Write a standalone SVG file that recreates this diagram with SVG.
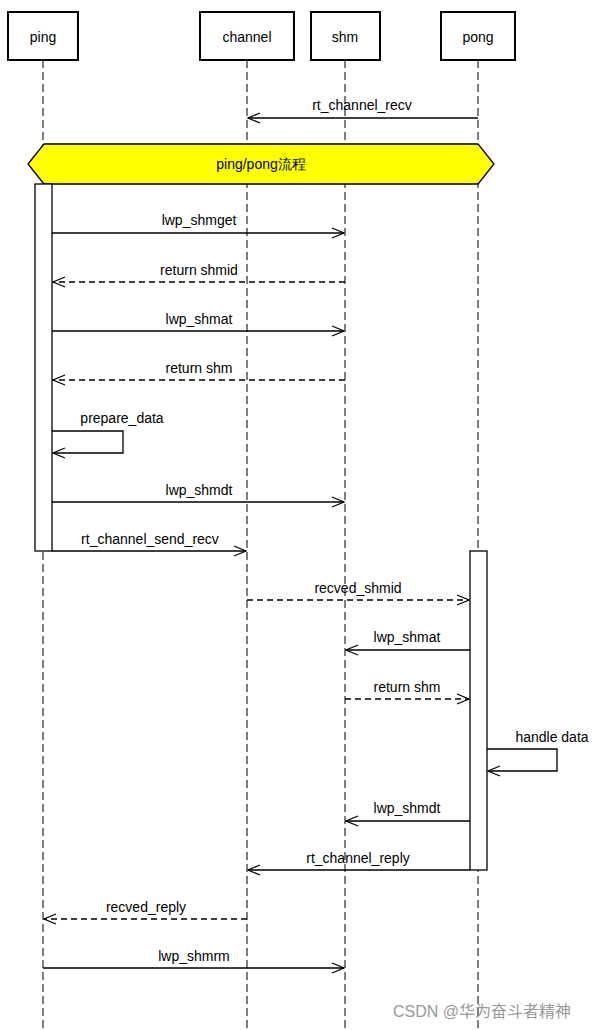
<svg xmlns="http://www.w3.org/2000/svg" width="602" height="1030" viewBox="0 0 602 1030">
<style>
text{font-family:"Liberation Sans",Arial,sans-serif;font-size:14px;fill:#000;text-anchor:middle}
.box{fill:#fff;stroke:#000;stroke-width:2}
.life{stroke:#000;stroke-width:1;stroke-dasharray:8,4;fill:none}
.m{stroke:#000;stroke-width:1.3;fill:none;marker-end:url(#a)}
.d{stroke:#000;stroke-width:1.3;fill:none;stroke-dasharray:6,4;marker-end:url(#a)}
.act{fill:#fff;stroke:#000;stroke-width:1.3}
</style>
<defs><marker id="a" markerWidth="14" markerHeight="12" refX="13" refY="6" orient="auto" markerUnits="userSpaceOnUse"><path d="M1,1 L13,6 L1,11" fill="none" stroke="#000" stroke-width="1.3"/></marker></defs>
<rect width="602" height="1030" fill="#fff"/>
<g id="lifelines">
<line class="life" x1="43" y1="60" x2="43" y2="1030"/>
<line class="life" x1="247" y1="60" x2="247" y2="1030"/>
<line class="life" x1="345" y1="60" x2="345" y2="1030"/>
<line class="life" x1="478" y1="60" x2="478" y2="1030"/>
</g>
<g id="ping"><rect class="box" x="8" y="12" width="70" height="48"/><text x="43" y="42">ping</text></g>
<g id="channel"><rect class="box" x="200" y="12" width="94" height="48"/><text x="247" y="42">channel</text></g>
<g id="shm"><rect class="box" x="311" y="12" width="69" height="48"/><text x="345" y="42">shm</text></g>
<g id="pong"><rect class="box" x="441" y="12" width="74" height="48"/><text x="478" y="42">pong</text></g>
<g id="frame"><polygon points="28,164 44,144 478,144 494,164 478,184 44,184" fill="#ffff00" stroke="#000" stroke-width="1.3"/><text x="261" y="169">ping/pong流程</text></g>
<g id="act-ping"><rect class="act" x="35" y="184" width="17" height="367"/></g>
<g id="act-pong"><rect class="act" x="470" y="551" width="17" height="319"/></g>
<g id="connectors">
<line class="m" x1="478" y1="118" x2="248" y2="118"/><text x="362" y="110">rt_channel_recv</text>
<line class="m" x1="52" y1="233" x2="344" y2="233"/><text x="199" y="225">lwp_shmget</text>
<line class="d" x1="345" y1="282" x2="53" y2="282"/><text x="199" y="275">return shmid</text>
<line class="m" x1="52" y1="331" x2="344" y2="331"/><text x="199" y="324">lwp_shmat</text>
<line class="d" x1="345" y1="380" x2="53" y2="380"/><text x="199" y="373">return shm</text>
<path class="m" d="M52,431 H123 V453 H53"/><text x="122" y="423">prepare_data</text>
<line class="m" x1="52" y1="502" x2="344" y2="502"/><text x="199" y="495">lwp_shmdt</text>
<line class="m" x1="52" y1="551" x2="246" y2="551"/><text x="150" y="544">rt_channel_send_recv</text>
<line class="d" x1="247" y1="600" x2="469" y2="600"/><text x="358" y="593">recved_shmid</text>
<line class="m" x1="470" y1="650" x2="346" y2="650"/><text x="407" y="642">lwp_shmat</text>
<line class="d" x1="345" y1="699" x2="469" y2="699"/><text x="407" y="692">return shm</text>
<path class="m" d="M487,749 H557 V771 H488"/><text x="552" y="742">handle data</text>
<line class="m" x1="470" y1="821" x2="346" y2="821"/><text x="407" y="813">lwp_shmdt</text>
<line class="m" x1="470" y1="870" x2="248" y2="870"/><text x="358" y="863">rt_channel_reply</text>
<line class="d" x1="247" y1="919" x2="44" y2="919"/><text x="146" y="912">recved_reply</text>
<line class="m" x1="43" y1="968" x2="344" y2="968"/><text x="194" y="961">lwp_shmrm</text>
</g>
<text x="482" y="1017" style="font-family:'Liberation Sans','Noto Sans CJK SC',sans-serif;font-size:16px;fill:#999">CSDN @华为奋斗者精神</text>
</svg>
